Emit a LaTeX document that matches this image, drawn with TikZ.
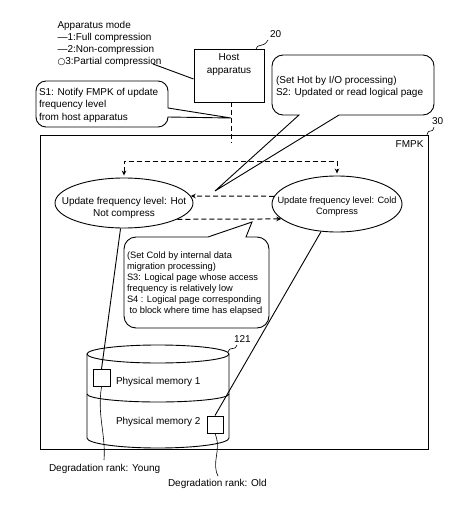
\documentclass[tikz,border=0pt]{standalone}
\usepackage{fontspec}
\setmainfont{Liberation Sans}
\newfontfamily\symfont{DejaVu Sans}
\usetikzlibrary{shapes.geometric,arrows.meta}
\begin{document}
\begin{tikzpicture}[x=1pt,y=-1pt, line width=0.9pt,
  txt/.style={font=\fontsize{10}{12}\selectfont, inner sep=0pt, outer sep=0pt},
  dsh/.style={dash pattern=on 5pt off 3pt, line width=1pt},
  arr/.style={-{Stealth[length=5pt,width=4.5pt]}},
  ell/.style={draw, ellipse, inner sep=0pt},
  sq/.style={draw, rectangle, minimum width=17pt, minimum height=17pt, inner sep=0pt},
  wig/.style={line width=0.6pt}]
\useasboundingbox (0,0) rectangle (474,505);

% legend
\node[txt, align=left, anchor=north west, font=\fontsize{10}{12}\selectfont] (legend) at (57.5,21.3)
  {Apparatus mode\\—1:Full compression\\—2:Non-compression\\{\symfont\fontsize{9}{12}\selectfont ○}3:Partial compression};

% host apparatus
\node[draw, minimum width=70pt, minimum height=53pt, inner sep=0pt] (host) at (229,75.5) {};
\node[txt, align=center, anchor=north, font=\fontsize{10}{13.4}\selectfont] (hosttxt) at (229,53.6) {Host\\apparatus};
\node[txt, anchor=base west] (n20) at (270,37.6) {20};
\coordinate (c20a) at (256,49.5);
\coordinate (c20b) at (268,40);
\draw[wig] (c20a) .. controls (258,42) and (263,49) .. (c20b);
\coordinate (lgd) at (153,64);
\draw (lgd) -- ([yshift=-3.5pt]host.west);

% FMPK
\node[draw, minimum width=388pt, minimum height=314pt, inner sep=0pt] (fmpk) at (234,292) {};
\node[txt, anchor=base east] (fmpklbl) at (423.5,147.6) {FMPK};
\node[txt, anchor=base west] (n30) at (432,124.6) {30};
\coordinate (c30a) at (427,135);
\coordinate (c30b) at (434,127);
\draw[wig] (c30a) .. controls (429,127) and (432,135) .. (c30b);

% S1 callout
\node[txt, align=left, anchor=north west, font=\fontsize{10}{12.4}\selectfont] (s1) at (39,88.3)
  {S1: Notify FMPK of update\\frequency level\\from host apparatus};
\coordinate (s1tip) at (231,118);
\draw (168,108) -- (168,91) .. controls (168,85.5) and (163.5,81) .. (158,81)
  -- (46,81) .. controls (40.5,81) and (36,85.5) .. (36,91)
  -- (36,117) .. controls (36,122.5) and (40.5,127) .. (46,127)
  -- (158,127) .. controls (163.5,127) and (168,122.5) .. (168,117)
  -- (s1tip) -- cycle;

% S2 callout
\node[txt, align=left, anchor=north west, font=\fontsize{10}{12}\selectfont] (s2) at (276,76.3)
  {(Set Hot by I/O processing)\\S2: Updated or read logical page};
\coordinate (s2tip) at (215,191);
\draw (339,115) -- (423,115) .. controls (429,115) and (434,110) .. (434,104)
  -- (434,66) .. controls (434,60) and (429,55) .. (423,55)
  -- (283,55) .. controls (277,55) and (272,60) .. (272,66)
  -- (272,104) .. controls (272,110) and (277,115) .. (283,115)
  -- (299,115) -- (s2tip) -- cycle;

% ellipses
\node[ell, minimum width=138pt, minimum height=50pt] (hot) at (124,203) {};
\node[txt, align=center, font=\fontsize{10}{11.5}\selectfont] (hottxt) at (124,208) {Update frequency level: Hot\\Not compress};
\node[ell, minimum width=130pt, minimum height=56pt] (cold) at (337,204) {};
\node[txt, align=center, font=\fontsize{9.2}{10.5}\selectfont] (coldtxt) at (337,206.5) {Update frequency level: Cold\\Compress};

% dashed flows
\coordinate (hd) at (231,143);
\draw[dsh] ([xshift=2pt]host.south) -- (hd);
\coordinate (dl) at (124,161);
\coordinate (dr) at (337,161);
\draw[dsh, {Stealth[length=5pt,width=4.5pt]}-{Stealth[length=5pt,width=4.5pt]}, shorten <=2pt, shorten >=2pt]
  (hot.north) -- (dl) -- (dr) -- (cold.north);
\draw[dsh, arr] (cold.173) -- (hot.6);
\draw[dsh, arr] (hot.-17) -- (cold.195);

% S3 callout
\node[txt, align=left, anchor=north west, font=\fontsize{9.3}{11}\selectfont] (s3) at (127,251.5)
  {(Set Cold by internal data\\migration processing)\\S3: Logical page whose access\\frequency is relatively low\\S4 : Logical page corresponding\\\hspace*{2.5pt}to block where time has elapsed};
\coordinate (s3tip) at (252,222);
\draw (208,237) -- (136,237) .. controls (129.4,237) and (124,242.4) .. (124,249)
  -- (124,316) .. controls (124,322.6) and (129.4,328) .. (136,328)
  -- (257,328) .. controls (263.6,328) and (269,322.6) .. (269,316)
  -- (269,249) .. controls (269,242.4) and (263.6,237) .. (257,237)
  -- (246,237) -- (s3tip) -- cycle;

% cylinder 121
\draw (158,354) ellipse [x radius=71pt, y radius=9pt];
\draw (87,354) -- (87,438) .. controls (87,443.5) and (118.8,448) .. (158,448)
  .. controls (197.2,448) and (229,443.5) .. (229,438) -- (229,354);
\draw (87,394) .. controls (87,398.4) and (118.8,402) .. (158,402)
  .. controls (197.2,402) and (229,398.4) .. (229,394);
\node[txt, anchor=base west] (n121) at (234,342.6) {121};
\coordinate (c121a) at (228,352);
\coordinate (c121b) at (237,345);
\draw[wig] (c121a) .. controls (231,345) and (234,352) .. (c121b);

% physical memories
\node[sq] (m1) at (101.5,378) {};
\node[sq, minimum width=16pt] (m2) at (215,424.5) {};
\node[txt, anchor=base west] (pm1) at (116,384.6) {Physical memory 1};
\node[txt, anchor=base west] (pm2) at (116,424.6) {Physical memory 2};

\draw (hot) -- (m1.north);
\draw (cold) -- (m2.north);

% degradation ranks
\node[txt, anchor=base west] (young) at (49,471.6) {Degradation rank: Young};
\node[txt, anchor=base west] (oldr) at (168,486.6) {Degradation rank: Old};
\coordinate (cy) at (104,460);
\coordinate (co) at (218,476);
\draw[wig] (m1.south) .. controls (97,415) and (106,435) .. (cy);
\draw[wig] (m2.south) .. controls (222,450) and (211,462) .. (co);
\end{tikzpicture}
\end{document}
